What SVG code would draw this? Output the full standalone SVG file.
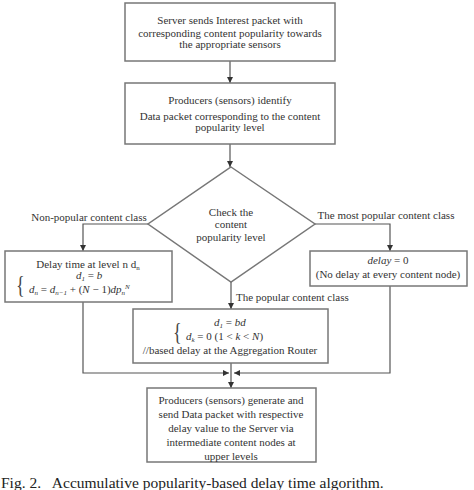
<svg xmlns="http://www.w3.org/2000/svg" width="474" height="490" viewBox="0 0 474 490">
<defs>
<marker id="ah" viewBox="0 0 8 8" refX="8" refY="4" markerWidth="6" markerHeight="6" orient="auto" markerUnits="userSpaceOnUse">
<path d="M0,0 L8,4 L0,8 z" fill="#333"/>
</marker>
<style>
.box{fill:#fff;stroke:#777;stroke-width:1.5}
.t{font-family:"Liberation Serif","Times New Roman",serif;font-size:11px;fill:#333;text-anchor:middle}
.m{font-family:"Liberation Serif","Times New Roman",serif;font-size:11px;fill:#333;font-style:italic}
.br{font-family:"Liberation Serif","Times New Roman",serif;font-size:26px;fill:#444}
.c{fill:none;stroke:#555;stroke-width:1.2}
.cap{font-family:"Liberation Serif","Times New Roman",serif;font-size:15.5px;fill:#222}
</style>
</defs>
<rect width="474" height="490" fill="#fff"/>
<g id="connectors">
<path class="c" d="M230,61 V83" marker-end="url(#ah)"/>
<path class="c" d="M230,144 V167" marker-end="url(#ah)"/>
<path class="c" d="M148,224 H83 V251" marker-end="url(#ah)"/>
<path class="c" d="M315,224 H390 V251" marker-end="url(#ah)"/>
<path class="c" d="M231,282 V309" marker-end="url(#ah)"/>
<path class="c" d="M83,302 V373 H229" marker-end="url(#ah)"/>
<path class="c" d="M390,286 V373 H234" marker-end="url(#ah)"/>
<path class="c" d="M231,363 V388" marker-end="url(#ah)"/>
</g>
<g id="n1">
<rect class="box" x="125" y="3" width="210" height="58"/>
<text class="t" x="230" y="24">Server sends Interest packet with</text>
<text class="t" x="230" y="37">corresponding content popularity towards</text>
<text class="t" x="230" y="48">the appropriate sensors</text>
</g>
<g id="n2">
<rect class="box" x="125" y="83" width="210" height="61"/>
<text class="t" x="230" y="104">Producers (sensors) identify</text>
<text class="t" x="230" y="120">Data packet corresponding to the content</text>
<text class="t" x="230" y="131">popularity level</text>
</g>
<g id="n3">
<polygon class="box" points="231,167 315,224 231,282 148,224"/>
<text class="t" x="231" y="216">Check the</text>
<text class="t" x="231" y="228">content</text>
<text class="t" x="231" y="241">popularity level</text>
</g>
<g id="labels">
<text class="t" x="89" y="221">Non-popular content class</text>
<text class="t" x="386" y="219">The most popular content class</text>
<text class="t" x="236" y="301" style="text-anchor:start">The popular content class</text>
</g>
<g id="n4">
<rect class="box" x="5" y="251" width="167" height="51"/>
<text class="t" x="88" y="268">Delay time at level n d<tspan font-size="7" dy="2">n</tspan></text>
<text class="br" x="16" y="293" transform="translate(16 293) scale(0.7 1) translate(-16 -293)">{</text>
<text class="m" x="76" y="279">d<tspan font-size="7" dy="2">1</tspan><tspan dy="-2" font-style="normal"> = </tspan>b</text>
<text class="m" x="29" y="293">d<tspan font-size="7" dy="2">n</tspan><tspan dy="-2" font-style="normal"> = </tspan>d<tspan font-size="7" dy="2">n−1</tspan><tspan dy="-2" font-style="normal"> + (</tspan>N<tspan font-style="normal"> − 1)</tspan>dp<tspan font-size="7" dy="2">n</tspan><tspan font-size="7" dy="-6">N</tspan></text>
</g>
<g id="n5">
<rect class="box" x="310" y="251" width="157" height="35"/>
<text class="t" x="388" y="264"><tspan font-style="italic">delay</tspan> = 0</text>
<text class="t" x="388" y="278">(No delay at every content node)</text>
</g>
<g id="n6">
<rect class="box" x="133" y="309" width="195" height="54"/>
<text class="br" x="173" y="340" transform="translate(173 340) scale(0.7 1) translate(-173 -340)">{</text>
<text class="m" x="214" y="326">d<tspan font-size="7" dy="2">1</tspan><tspan dy="-2" font-style="normal"> = </tspan>bd</text>
<text class="m" x="186" y="340">d<tspan font-size="7" dy="2">k</tspan><tspan dy="-2" font-style="normal"> = 0 (1 &lt; </tspan>k<tspan font-style="normal"> &lt; </tspan>N<tspan font-style="normal">)</tspan></text>
<text class="t" x="230" y="354">//based delay at the Aggregation Router</text>
</g>
<g id="n7">
<rect class="box" x="147" y="388" width="169" height="74"/>
<text class="t" x="231" y="404">Producers (sensors) generate and</text>
<text class="t" x="231" y="418">send Data packet with respective</text>
<text class="t" x="231" y="432">delay value to the Server via</text>
<text class="t" x="231" y="446">intermediate content nodes at</text>
<text class="t" x="231" y="460">upper levels</text>
</g>
<text class="cap" x="1" y="488" xml:space="preserve">Fig. 2.   Accumulative popularity-based delay time algorithm.</text>
</svg>
